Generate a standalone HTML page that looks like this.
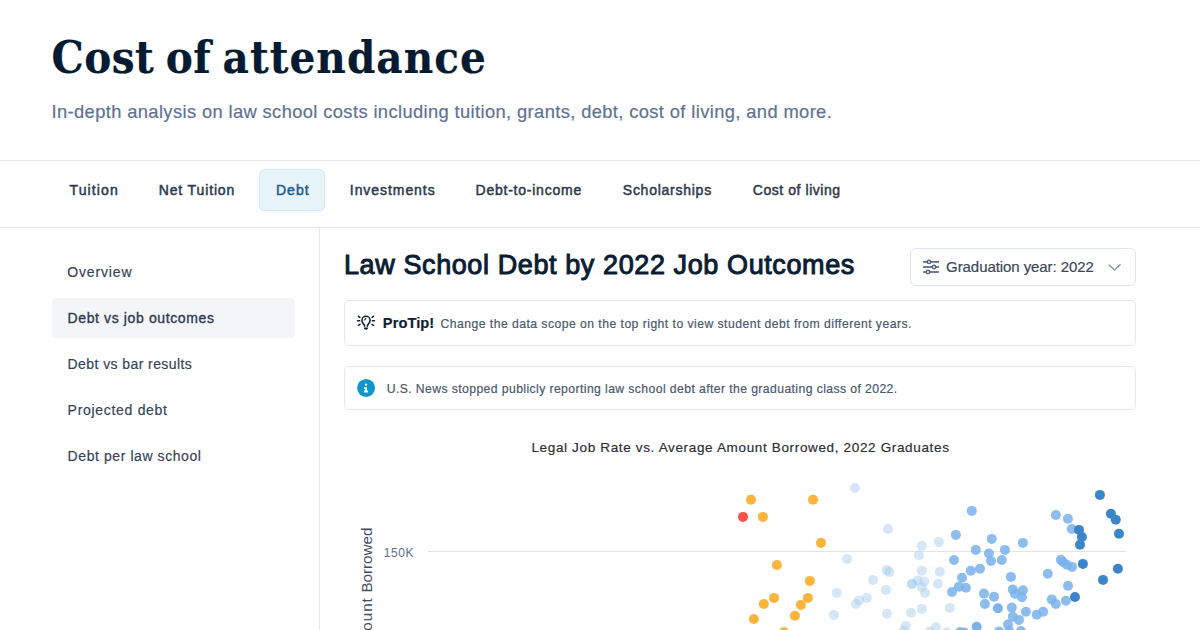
<!DOCTYPE html>
<html><head><meta charset="utf-8">
<style>
*{box-sizing:border-box;margin:0;padding:0}
html,body{width:1200px;height:630px;overflow:hidden;background:#fff}
body{font-family:"Liberation Sans",Arial,sans-serif;color:#334155;position:relative}
.t{position:absolute;white-space:nowrap;line-height:1;-webkit-text-stroke:0.2px currentColor}
#title{left:51.6px;top:34.6px;font-family:"DejaVu Serif Condensed","DejaVu Serif",serif;font-weight:bold;font-size:45.12px;letter-spacing:0.406px;word-spacing:-3px;color:#061b32}
#sub{left:51.5px;top:102.7px;font-size:18.33px;letter-spacing:0.374px;color:#607291}
#nav{position:absolute;left:0;top:160px;width:1200px;height:68px;border-top:1px solid #e2e7f0;border-bottom:1px solid #e2e7f0}
.tab{font-size:14px;font-weight:normal;color:#2e3a4e;-webkit-text-stroke:0.5px #2e3a4e;top:183.1px}
#debtbox{position:absolute;left:259px;top:169px;width:66px;height:42px;background:#e7f5fa;border:1px solid #d0eaf3;border-radius:6px;box-shadow:0 1px 2px rgba(0,0,0,.04)}
#side{position:absolute;left:0;top:228px;width:320px;height:402px;border-right:1px solid #e2e7f0}
.si{font-size:14px;color:#36445a}
#act{position:absolute;left:52px;top:298px;width:243px;height:40px;background:#f4f5f7;border-radius:4px}
#h2{left:344px;top:252px;font-size:27px;letter-spacing:0.6px;font-weight:normal;-webkit-text-stroke:1px #0b1d33;color:#0b1d33}
#dd{position:absolute;left:910px;top:248px;width:226px;height:38px;border:1px solid #dfe5ec;border-radius:6px}
.box{position:absolute;left:344px;width:792px;border:1px solid #e3e8ef;border-radius:5px}
#tip{top:300px;height:46px}
#info{top:366px;height:44px}
</style></head><body>
<div id="title" class="t">Cost of <span style="letter-spacing:1.05px">attendance</span></div>
<div id="sub" class="t">In-depth analysis on law school costs including tuition, grants, debt, cost of living, and more.</div>
<div id="nav"></div>
<div id="debtbox"></div>
<div class="t tab" style="left:69.5px;letter-spacing:1.117px">Tuition</div>
<div class="t tab" style="left:158.7px;letter-spacing:0.87px">Net Tuition</div>
<div class="t tab" style="left:276px;letter-spacing:1px;color:#1d5c93;-webkit-text-stroke:0.5px #1d5c93">Debt</div>
<div class="t tab" style="left:349.8px;letter-spacing:0.94px">Investments</div>
<div class="t tab" style="left:475.5px;letter-spacing:0.769px">Debt-to-income</div>
<div class="t tab" style="left:622.8px;letter-spacing:0.745px">Scholarships</div>
<div class="t tab" style="left:752.8px;letter-spacing:0.554px">Cost of living</div>

<div id="side"></div>
<div id="act"></div>
<div class="t si" style="left:67.3px;top:265px;letter-spacing:0.843px">Overview</div>
<div class="t si" style="left:67.5px;top:311px;letter-spacing:0.621px;-webkit-text-stroke:0.35px #2e3b50;color:#2e3b50">Debt vs job outcomes</div>
<div class="t si" style="left:67.6px;top:357px;letter-spacing:0.417px">Debt vs bar results</div>
<div class="t si" style="left:67.6px;top:402.8px;letter-spacing:0.7px">Projected debt</div>
<div class="t si" style="left:67.6px;top:448.9px;letter-spacing:0.578px">Debt per law school</div>

<div id="h2" class="t">Law School Debt by 2022 Job Outcomes</div>
<div id="dd"></div>
<div class="t" style="left:946.1px;top:258.8px;font-size:15px;letter-spacing:-0.075px;color:#3b475a">Graduation year: 2022</div>

<div id="tip" class="box"></div>
<div class="t" style="left:382.8px;top:315.7px;font-size:14.64px;letter-spacing:0.075px;font-weight:bold;color:#0e1f33">ProTip!</div>
<div class="t" style="left:440.5px;top:317.7px;font-size:12.2px;letter-spacing:0.46px;color:#4a596e">Change the data scope on the top right to view student debt from different years.</div>

<div id="info" class="box"></div>
<div class="t" style="left:386.7px;top:383.3px;font-size:12.2px;letter-spacing:0.409px;color:#4a596e">U.S. News stopped publicly reporting law school debt after the graduating class of 2022.</div>

<div class="t" style="left:531.4px;top:440.6px;font-size:13.5px;letter-spacing:0.654px;color:#2e3035">Legal Job Rate vs. Average Amount Borrowed, 2022 Graduates</div>
<div class="t" style="left:383.8px;top:547px;font-size:12px;letter-spacing:0.55px;color:#5d6f8b;-webkit-text-stroke:0">150K</div>
<svg id="ov" width="1200" height="630" viewBox="0 0 1200 630" style="position:absolute;left:0;top:0">
<style>
.l{fill:rgb(171,205,239);fill-opacity:.5}
.lm{fill:rgb(125,183,235);fill-opacity:.5}
.m{fill:rgb(121,177,235);fill-opacity:.85}
.m2{fill:rgb(121,177,235);fill-opacity:.98}
.d{fill:#3d85c9}
.o{fill:#fbb43c}
.r{fill:#fc5048}
</style>
<line x1="428" y1="551.5" x2="1126" y2="551.5" stroke="#e3e3e3" stroke-width="1"/>
<text x="0" y="0" text-anchor="end" transform="translate(371.6 527.6) rotate(-90)" font-family="Liberation Sans" font-size="15.2" letter-spacing="0" fill="#3e4e65">Borrowed</text>
<text x="0" y="0" text-anchor="end" transform="translate(371.6 597.2) rotate(-90)" font-family="Liberation Sans" font-size="15.2" letter-spacing="1" fill="#3e4e65">Amount</text>
<circle class="l" cx="855" cy="488" r="5"/>
<circle class="l" cx="888" cy="529" r="5"/>
<circle class="l" cx="921.8" cy="545.7" r="5"/>
<circle class="l" cx="938.9" cy="541.9" r="5"/>
<circle class="l" cx="918.9" cy="555.2" r="5"/>
<circle class="l" cx="847" cy="558.9" r="5"/>
<circle class="l" cx="836.8" cy="592.9" r="5"/>
<circle class="l" cx="833.9" cy="615" r="5"/>
<circle class="l" cx="855.9" cy="604" r="5"/>
<circle class="l" cx="859" cy="600.5" r="5"/>
<circle class="l" cx="866.9" cy="597.9" r="5"/>
<circle class="l" cx="873" cy="579.9" r="5"/>
<circle class="l" cx="886.7" cy="569.9" r="5"/>
<circle class="l" cx="889.3" cy="572.1" r="5"/>
<circle class="l" cx="921.8" cy="570.8" r="5"/>
<circle class="l" cx="939.8" cy="571.8" r="5"/>
<circle class="l" cx="917.6" cy="580.4" r="5"/>
<circle class="l" cx="924.2" cy="581.5" r="5"/>
<circle class="l" cx="921.8" cy="587.1" r="5"/>
<circle class="l" cx="925" cy="592.9" r="5"/>
<circle class="l" cx="938" cy="583.8" r="5"/>
<circle class="l" cx="886" cy="589.9" r="5"/>
<circle class="l" cx="887" cy="613.8" r="5"/>
<circle class="l" cx="911" cy="612.8" r="5"/>
<circle class="l" cx="921.8" cy="608.9" r="5"/>
<circle class="l" cx="949.8" cy="607.9" r="5"/>
<circle class="l" cx="905.8" cy="626.1" r="5"/>
<circle class="l" cx="903.7" cy="631" r="5"/>
<circle class="l" cx="935.9" cy="627.2" r="5"/>
<circle class="l" cx="930" cy="631.5" r="5"/>
<circle class="l" cx="946.7" cy="632.5" r="5"/>
<circle class="lm" cx="912" cy="583.9" r="5"/>
<circle class="m" cx="971.8" cy="510.9" r="5"/>
<circle class="m" cx="955.9" cy="534.9" r="5"/>
<circle class="m" cx="991.8" cy="538.9" r="5"/>
<circle class="m" cx="975.8" cy="549.9" r="5"/>
<circle class="m" cx="988.9" cy="553.5" r="5"/>
<circle class="m" cx="1004.9" cy="549.9" r="5"/>
<circle class="m" cx="1022.9" cy="542.9" r="5"/>
<circle class="m" cx="1055.9" cy="515" r="5"/>
<circle class="m" cx="1067.9" cy="518.8" r="5"/>
<circle class="m" cx="1071.7" cy="529" r="5"/>
<circle class="m" cx="954" cy="560" r="5"/>
<circle class="m" cx="991" cy="561" r="5"/>
<circle class="m" cx="1001.8" cy="560" r="5"/>
<circle class="m" cx="970.8" cy="570.8" r="5"/>
<circle class="m" cx="980" cy="568.8" r="5"/>
<circle class="m" cx="962" cy="577.7" r="5"/>
<circle class="m" cx="1010.9" cy="576.9" r="5"/>
<circle class="m" cx="1047.8" cy="573.8" r="5"/>
<circle class="m" cx="958.9" cy="586.8" r="5"/>
<circle class="m" cx="965.9" cy="587.7" r="5"/>
<circle class="m" cx="952" cy="592" r="5"/>
<circle class="m" cx="983.9" cy="593.6" r="5"/>
<circle class="m" cx="994" cy="596.8" r="5"/>
<circle class="m" cx="984.9" cy="604" r="5"/>
<circle class="m" cx="1012.8" cy="589.4" r="5"/>
<circle class="m" cx="1014.8" cy="593.8" r="5"/>
<circle class="m" cx="1022.9" cy="590.3" r="5"/>
<circle class="m" cx="1021.9" cy="597.2" r="5"/>
<circle class="m" cx="1011.8" cy="607.6" r="5"/>
<circle class="m" cx="1012.8" cy="616.8" r="5"/>
<circle class="m" cx="1019" cy="619.9" r="5"/>
<circle class="m" cx="1025.9" cy="611.8" r="5"/>
<circle class="m" cx="1036.8" cy="614.8" r="5"/>
<circle class="m" cx="1043.1" cy="611.8" r="5"/>
<circle class="m" cx="1008" cy="624.5" r="5"/>
<circle class="m" cx="960" cy="632" r="5"/>
<circle class="m" cx="964.3" cy="632.5" r="5"/>
<circle class="m" cx="999" cy="631.4" r="5"/>
<circle class="m" cx="1009.2" cy="631" r="5"/>
<circle class="m" cx="1021" cy="631" r="5"/>
<circle class="m" cx="1060.8" cy="559.7" r="5"/>
<circle class="m" cx="1063" cy="562" r="5"/>
<circle class="m" cx="1066.9" cy="564.7" r="5"/>
<circle class="m" cx="1072.1" cy="566.9" r="5"/>
<circle class="m" cx="1068" cy="585.8" r="5"/>
<circle class="m" cx="1051.7" cy="599.4" r="5"/>
<circle class="m" cx="1055.8" cy="604" r="5"/>
<circle class="m" cx="1065.9" cy="600.7" r="5"/>
<circle class="m2" cx="997.9" cy="608.3" r="5"/>
<circle class="m2" cx="976.7" cy="626.8" r="5"/>
<circle class="d" cx="1079" cy="529.9" r="5"/>
<circle class="d" cx="1081.9" cy="537" r="5"/>
<circle class="d" cx="1080" cy="544.8" r="5"/>
<circle class="d" cx="1099.9" cy="494.9" r="5"/>
<circle class="d" cx="1110.9" cy="513.7" r="5"/>
<circle class="d" cx="1115.8" cy="519.7" r="5"/>
<circle class="d" cx="1119" cy="533.8" r="5"/>
<circle class="d" cx="1082.9" cy="563.9" r="5"/>
<circle class="d" cx="1117.9" cy="568.8" r="5"/>
<circle class="d" cx="1103" cy="579.9" r="5"/>
<circle class="d" cx="1075" cy="597" r="5"/>
<circle class="o" cx="751" cy="499.8" r="5"/>
<circle class="o" cx="813" cy="499.8" r="5"/>
<circle class="o" cx="762.9" cy="516.9" r="5"/>
<circle class="o" cx="821" cy="542.9" r="5"/>
<circle class="o" cx="776.9" cy="565.0" r="5"/>
<circle class="o" cx="809.9" cy="580.9" r="5"/>
<circle class="o" cx="774.0" cy="597.9" r="5"/>
<circle class="o" cx="763.8" cy="604.0" r="5"/>
<circle class="o" cx="807.9" cy="597.9" r="5"/>
<circle class="o" cx="800.9" cy="604.9" r="5"/>
<circle class="o" cx="794.9" cy="615.8" r="5"/>
<circle class="o" cx="753.9" cy="619.0" r="5"/>
<circle class="o" cx="783.9" cy="632" r="5"/>
<circle class="r" cx="743" cy="516.9" r="5"/>

<!-- slider icon -->
<g stroke="#536683" stroke-width="1.7" fill="none" stroke-linecap="butt">
<line x1="923.2" y1="261.9" x2="938.9" y2="261.9"/>
<line x1="923.2" y1="267" x2="938.9" y2="267"/>
<line x1="923.2" y1="272" x2="938.9" y2="272"/>
</g>
<g stroke="#536683" stroke-width="1.5" fill="#fff">
<circle cx="928.9" cy="261.9" r="1.7"/>
<circle cx="934" cy="267" r="1.7"/>
<circle cx="928" cy="272" r="1.7"/>
</g>
<!-- chevron -->
<polyline points="1109.3,265 1114.6,270 1120.1,264.8" fill="none" stroke="#8396b2" stroke-width="1.4" stroke-linecap="round" stroke-linejoin="round"/>
<!-- bulb -->
<g stroke="#0e1f33" stroke-width="1.55" fill="none" stroke-linecap="round">
<path d="M364.7,326.2 C364.5,324.2 361.9,322.9 361.9,320.4 A4.1,4.1 0 1 1 370.1,320.4 C370.1,322.9 367.5,324.2 367.3,326.2"/>
<path d="M364.8,320 A1.6,1.6 0 0 1 365.9,318.6" stroke-width="1.2"/>
<line x1="357.6" y1="320.8" x2="359.6" y2="320.8"/>
<line x1="372.4" y1="320.8" x2="374.4" y2="320.8"/>
<line x1="358.5" y1="316.3" x2="359.9" y2="317.3"/>
<line x1="373.5" y1="316.3" x2="372.1" y2="317.3"/>
<line x1="358.5" y1="325.3" x2="359.9" y2="324.3"/>
<line x1="373.5" y1="325.3" x2="372.1" y2="324.3"/>
</g>
<path d="M364,327.5 L368,327.5 C368,329 367.2,329.7 366,329.7 C364.8,329.7 364,329 364,327.5 Z" fill="#0e1f33"/>
<!-- info -->
<circle cx="366.1" cy="387.9" r="9" fill="#0e96cd"/>
<rect x="365" y="383.7" width="2" height="1.9" fill="#fff"/>
<path d="M364,387.3 H367 V390.6 H368.1 V392.4 H363.9 V390.6 H365 V389 H364 Z" fill="#fff"/>
</svg>
</body></html>
